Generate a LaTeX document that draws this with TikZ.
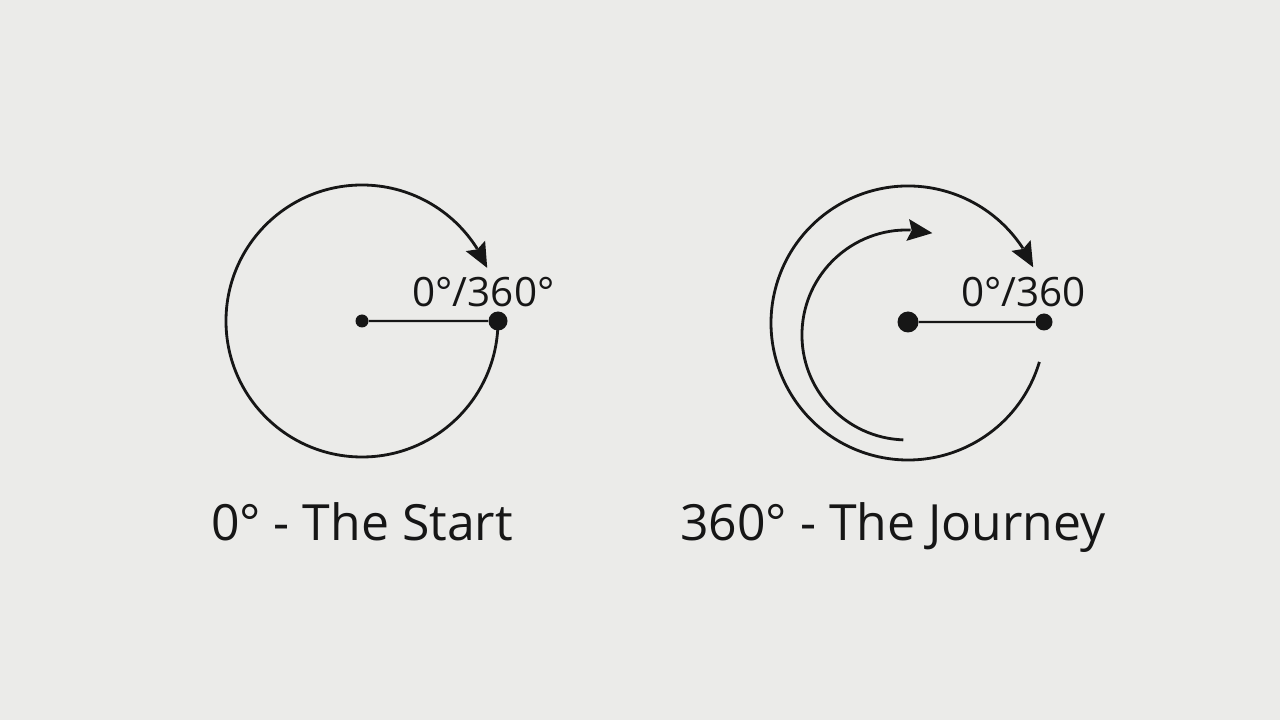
\documentclass[tikz,border=0pt]{standalone}
\usepackage{fontspec}
\setmainfont{Open Sans}
\usepackage{tikz}
\definecolor{paper}{RGB}{235,235,233}
\definecolor{ink}{RGB}{22,22,22}

\begin{document}
\begin{tikzpicture}[scale=0.2]
\tikzstyle{every node}+=[inner sep=0pt]
\tikzstyle{dot}=[circle,fill=ink,inner sep=0pt]
\tikzstyle{tag}=[anchor=base,text=ink,font=\fontsize{23}{28}\selectfont]
\tikzstyle{caption}=[anchor=base,text=ink,font=\fontsize{28.4}{34}\selectfont]
\fill [paper] (0,0) rectangle (128,-72);
% left: the start
\node [dot,minimum size=2.6mm] (lc) at (36.2,-32.1) {};
\node [dot,minimum size=3.8mm] (le) at (49.8,-32.1) {};
\draw [ink,line width=1.2pt] (lc) -- (le);
\draw [ink,line width=1.6pt] (le.center) arc (0:-328:13.6);
\fill [ink] (48.72,-26.79) -- (48.51,-24.07) -- (47.73,-24.94) -- (46.57,-25.11) -- cycle;
\node [tag] (ltag) at (48.35,-30.7) {0°/360°};
\node [caption] (lname) at (36.2,-54.0) {0° - The Start};
% right: the journey
\node [dot,minimum size=4.2mm] (rc) at (90.8,-32.2) {};
\node [dot,minimum size=3.4mm] (re) at (104.4,-32.2) {};
\draw [ink,line width=1.2pt] (rc) -- (re);
\coordinate (rs) at (103.94,-36.19);
\draw [ink,line width=1.6pt] (rs) arc (-16.5:-327:13.7);
\fill [ink] (103.32,-26.73) -- (103.06,-24.01) -- (102.30,-24.90) -- (101.14,-25.09) -- cycle;
\coordinate (is) at (90.33,-43.99);
\draw [ink,line width=1.6pt] (is) arc (268:88:10.5);
\fill [ink] (93.24,-23.31) -- (90.91,-21.91) -- (91.17,-23.05) -- (90.63,-24.09) -- cycle;
\node [tag] (rtag) at (102.35,-30.7) {0°/360};
\node [caption] (rname) at (89.3,-54.0) {360° - The Journey};
\end{tikzpicture}
\end{document}
